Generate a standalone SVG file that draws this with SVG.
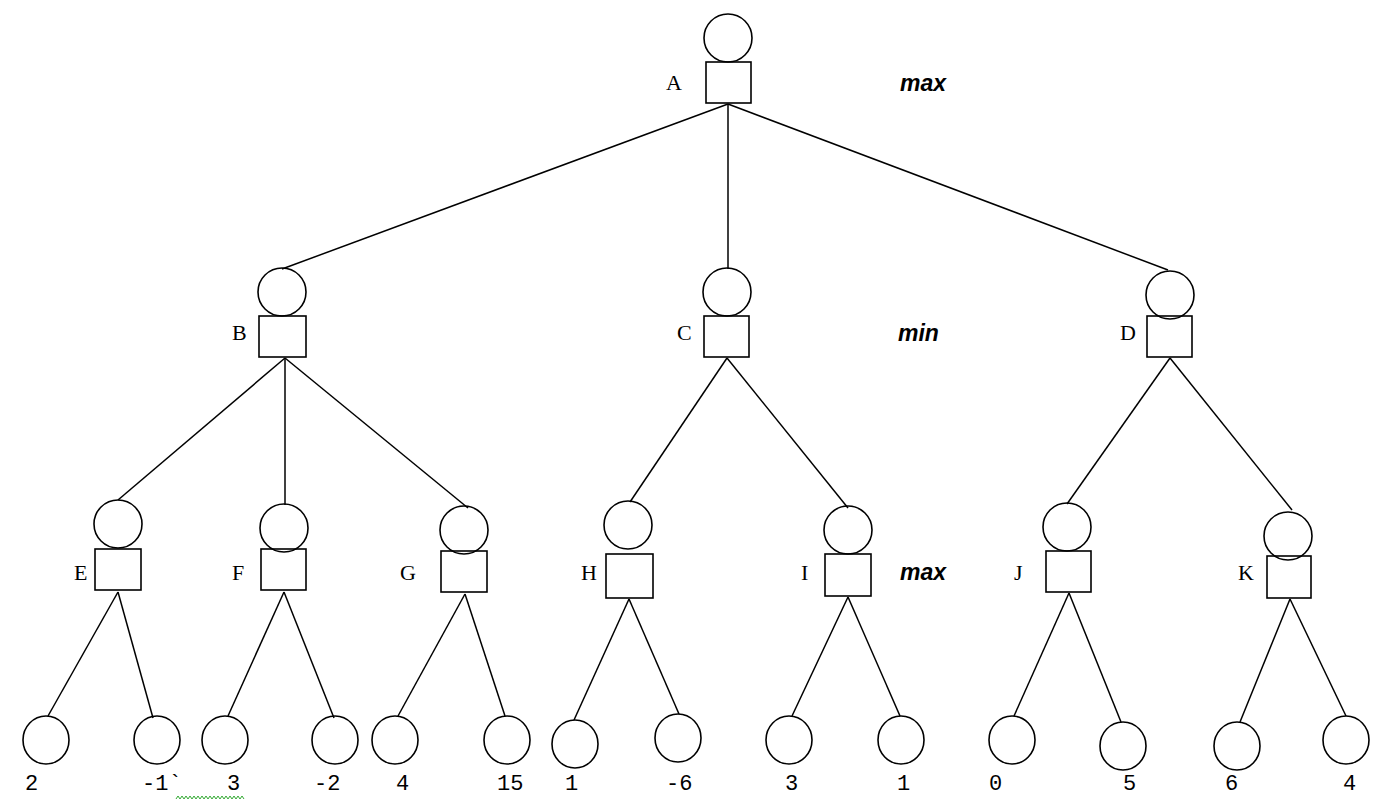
<svg xmlns="http://www.w3.org/2000/svg" width="1386" height="804" viewBox="0 0 1386 804">
<style>
.n{fill:none;stroke:#000;stroke-width:1.6}
.e{stroke:#000;stroke-width:1.5;fill:none}
.lb{font-family:"Liberation Serif",serif;font-size:22px}
.lv{font-family:"Liberation Sans",sans-serif;font-size:23px;font-weight:bold;font-style:italic}
.v{font-family:"Liberation Mono",monospace;font-size:22px}
</style>
<rect width="1386" height="804" fill="#fff"/>
<g id="connectors" class="e">
<line x1="728" y1="104" x2="282" y2="269"/><line x1="728" y1="104" x2="728" y2="269"/><line x1="728" y1="104" x2="1168" y2="270"/>
<line x1="285" y1="358" x2="118" y2="500"/><line x1="285" y1="358" x2="285" y2="505"/><line x1="285" y1="358" x2="468" y2="508"/>
<line x1="727" y1="358" x2="630" y2="502"/><line x1="727" y1="358" x2="848" y2="508"/>
<line x1="1170" y1="358" x2="1067" y2="504"/><line x1="1170" y1="358" x2="1292" y2="510"/>
<line x1="118" y1="592" x2="48" y2="716"/><line x1="118" y1="592" x2="153" y2="718"/>
<line x1="284" y1="592" x2="228" y2="716"/><line x1="284" y1="592" x2="334" y2="718"/>
<line x1="465" y1="594" x2="398" y2="716"/><line x1="465" y1="594" x2="505" y2="716"/>
<line x1="629" y1="599" x2="574" y2="720"/><line x1="629" y1="599" x2="679" y2="714"/>
<line x1="848" y1="597" x2="792" y2="716"/><line x1="848" y1="597" x2="900" y2="716"/>
<line x1="1069" y1="593" x2="1014" y2="716"/><line x1="1069" y1="593" x2="1121" y2="722"/>
<line x1="1290" y1="599" x2="1240" y2="722"/><line x1="1290" y1="599" x2="1346" y2="716"/>
</g>
<g id="A"><circle class="n" cx="728" cy="38" r="24"/><rect class="n" x="706" y="62" width="45" height="41"/><text class="lb" x="666" y="90">A</text></g>
<g id="B"><circle class="n" cx="282" cy="292" r="24"/><rect class="n" x="259" y="316" width="47" height="41"/><text class="lb" x="232" y="340">B</text></g>
<g id="C"><circle class="n" cx="727" cy="292" r="24"/><rect class="n" x="704" y="316" width="45" height="41"/><text class="lb" x="677" y="340">C</text></g>
<g id="D"><circle class="n" cx="1170" cy="295" r="24"/><rect class="n" x="1147" y="316" width="45" height="41"/><text class="lb" x="1120" y="340">D</text></g>
<g id="E"><circle class="n" cx="118" cy="524" r="24"/><rect class="n" x="95" y="549" width="46" height="41"/><text class="lb" x="74" y="580">E</text></g>
<g id="F"><circle class="n" cx="284" cy="528" r="24"/><rect class="n" x="261" y="549" width="45" height="41"/><text class="lb" x="232" y="580">F</text></g>
<g id="G"><circle class="n" cx="464" cy="530" r="24"/><rect class="n" x="441" y="551" width="46" height="41"/><text class="lb" x="400" y="580">G</text></g>
<g id="H"><circle class="n" cx="628" cy="525" r="24"/><rect class="n" x="606" y="554" width="47" height="44"/><text class="lb" x="581" y="580">H</text></g>
<g id="I"><circle class="n" cx="848" cy="530" r="24"/><rect class="n" x="825" y="554" width="46" height="42"/><text class="lb" x="801" y="580">I</text></g>
<g id="J"><circle class="n" cx="1067" cy="527" r="24"/><rect class="n" x="1046" y="551" width="45" height="41"/><text class="lb" x="1014" y="580">J</text></g>
<g id="K"><circle class="n" cx="1288" cy="536" r="24"/><rect class="n" x="1267" y="556" width="44" height="42"/><text class="lb" x="1238" y="580">K</text></g>
<text class="lv" x="900" y="91">max</text>
<text class="lv" x="898" y="341">min</text>
<text class="lv" x="900" y="580">max</text>
<g id="leaves">
<ellipse class="n" cx="46" cy="740" rx="23" ry="24"/><ellipse class="n" cx="157" cy="740" rx="23" ry="24"/>
<ellipse class="n" cx="225" cy="740" rx="23" ry="24"/><ellipse class="n" cx="335" cy="740" rx="23" ry="24"/>
<ellipse class="n" cx="395" cy="740" rx="23" ry="24"/><ellipse class="n" cx="507" cy="740" rx="23" ry="24"/>
<ellipse class="n" cx="575" cy="744" rx="23" ry="24"/><ellipse class="n" cx="678" cy="738" rx="23" ry="24"/>
<ellipse class="n" cx="789" cy="740" rx="23" ry="24"/><ellipse class="n" cx="901" cy="740" rx="23" ry="24"/>
<ellipse class="n" cx="1012" cy="740" rx="23" ry="24"/><ellipse class="n" cx="1123" cy="746" rx="23" ry="24"/>
<ellipse class="n" cx="1237" cy="746" rx="23" ry="24"/><ellipse class="n" cx="1346" cy="740" rx="23" ry="24"/>
</g>
<g class="v">
<text x="25" y="790">2</text><text x="142" y="790">-1`</text><text x="227" y="790">3</text><text x="314" y="790">-2</text>
<text x="396" y="790">4</text><text x="497" y="790">15</text><text x="565" y="790">1</text><text x="666" y="790">-6</text>
<text x="785" y="790">3</text><text x="897" y="790">1</text><text x="989" y="790">0</text><text x="1123" y="790">5</text>
<text x="1225" y="790">6</text><text x="1343" y="790">4</text>
</g>
<polyline points="176,799 178,796 180,799 182,796 184,799 186,796 188,799 190,796 192,799 194,796 196,799 198,796 200,799 202,796 204,799 206,796 208,799 210,796 212,799 214,796 216,799 218,796 220,799 222,796 224,799 226,796 228,799 230,796 232,799 234,796 236,799 238,796 240,799 242,796 244,799" fill="none" stroke="#3a3" stroke-width="1"/>
</svg>
